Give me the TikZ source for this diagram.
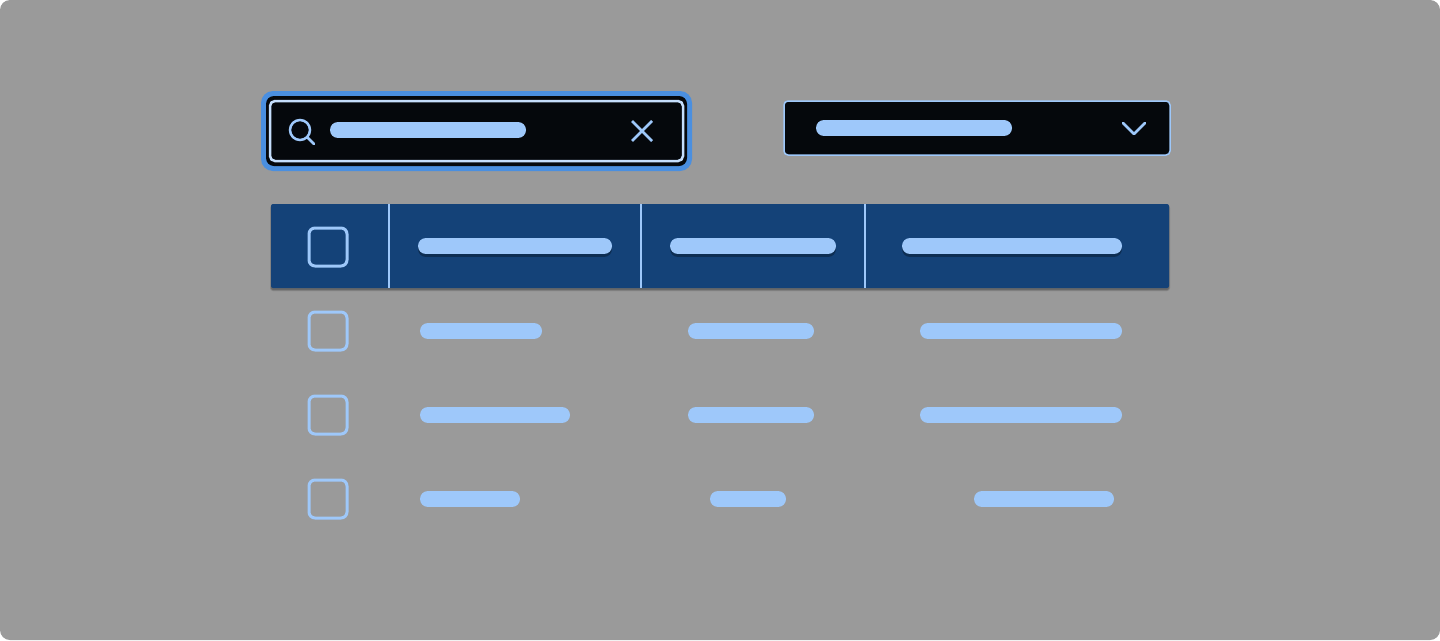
\documentclass[tikz,border=0pt]{standalone}
\definecolor{bg}{HTML}{9A9A9A}
\definecolor{lb}{HTML}{9EC8FA}
\definecolor{hd}{HTML}{144278}
\definecolor{glow}{HTML}{4A8FE0}
\definecolor{blk}{HTML}{05080C}
\tikzset{bar/.style={line width=16pt,line cap=round,lb},
 cbox/.style={draw=lb,line width=3pt,rounded corners=6pt}}
\begin{document}
\begin{tikzpicture}[x=1pt,y=-1pt]
\useasboundingbox (0,0) rectangle (1440,640);
\fill[white] (0,0) rectangle (1440,640);
\fill[bg,rounded corners=10pt] (0,0) rectangle (1440,640);
% search
\fill[glow,rounded corners=12pt] (261,91) rectangle (692,171);
\fill[blk,rounded corners=8pt] (266,96) rectangle (687,166);
\draw[lb!60!white,line width=2.5pt,fill=blk,rounded corners=5pt] (270,101) rectangle (683,161);
\draw[lb,line width=2.5pt] (300,130) circle (10);
\draw[lb,line width=2.5pt,line cap=round] (307,137) -- (314,144);
\draw[bar] (338,130) -- (518,130);
\draw[lb,line width=2.5pt] (632,121) -- (652,141) (652,121) -- (632,141);
% dropdown
\draw[lb,line width=1.5pt,fill=blk,rounded corners=4pt] (784,101) rectangle (1170,155);
\draw[bar] (824,128) -- (1004,128);
\draw[lb,line width=2.5pt,line cap=round,line join=round] (1123,123) -- (1134,134) -- (1145,123);
% header
\fill[black,opacity=0.15,rounded corners=3pt] (270,205) rectangle (1170,291);
\fill[black,opacity=0.2,rounded corners=2pt] (271,205) rectangle (1169,290);
\fill[hd,rounded corners=2pt] (271,204) rectangle (1169,288);
\draw[lb,line width=1.2pt] (389,204) -- (389,288) (641,204) -- (641,288) (865,204) -- (865,288);
\draw[cbox] (309,228) rectangle (347,266);
\foreach \a/\b in {418/612,670/836,902/1122}{
 \draw[line width=16pt,line cap=round,black,opacity=0.3] (\a+8,249) -- (\b-8,249);
 \draw[bar] (\a+8,246) -- (\b-8,246);}
% rows
\foreach \y/\a/\b/\c/\d/\e/\f in {331/420/542/688/814/920/1122,415/420/570/688/814/920/1122,499/420/520/710/786/974/1114}{
 \draw[cbox] (309,\y-19) rectangle (347,\y+19);
 \draw[bar] (\a+8,\y) -- (\b-8,\y);
 \draw[bar] (\c+8,\y) -- (\d-8,\y);
 \draw[bar] (\e+8,\y) -- (\f-8,\y);}
\end{tikzpicture}
\end{document}
